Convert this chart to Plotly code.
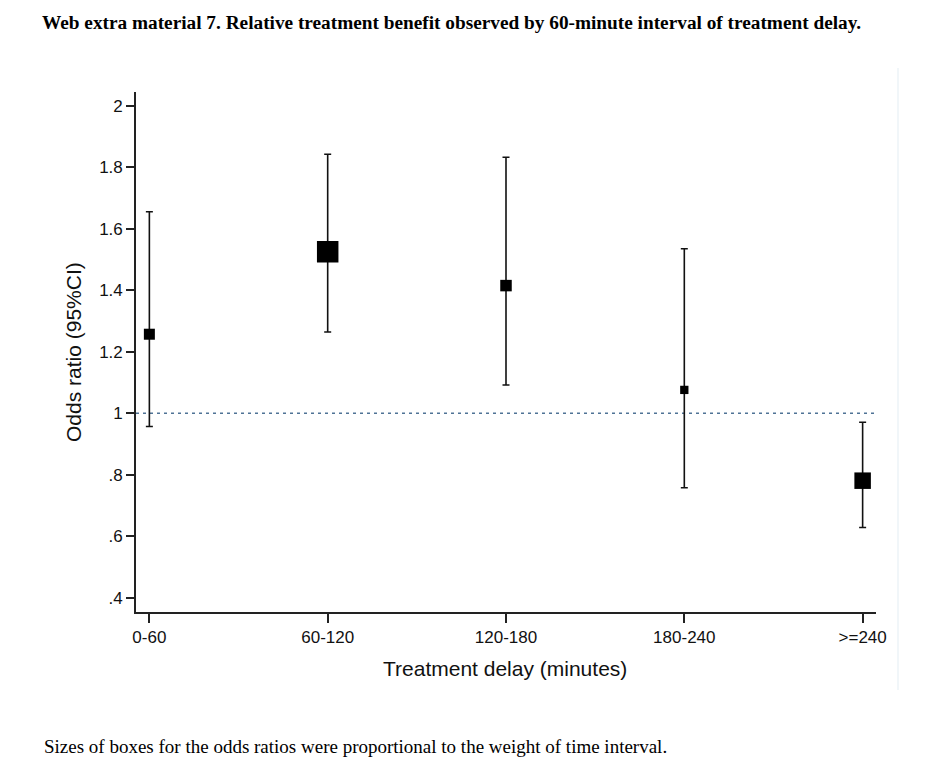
import plotly.graph_objects as go

# ---- data ----
categories = ["0-60", "60-120", "120-180", "180-240", ">=240"]
odds_ratio = [1.257, 1.525, 1.415, 1.076, 0.781]
ci_low = [0.957, 1.264, 1.092, 0.758, 0.629]
ci_high = [1.655, 1.842, 1.832, 1.535, 0.971]
box_weight = [11, 21.5, 11.5, 8.3, 16.5]  # relative weights (box sizes)
y_tickvals = [0.4, 0.6, 0.8, 1.0, 1.2, 1.4, 1.6, 1.8, 2.0]
y_ticktext = [".4", ".6", ".8", "1", "1.2", "1.4", "1.6", "1.8", "2"]

W, H = 930, 774
L, R, T, B = 136, 54, 92, 162
pw, ph = W - L - R, H - T - B

def px_x(p):
    return (p - L) / pw

def px_y(p):
    return (H - B - p) / ph

fig = go.Figure()

fig.add_trace(go.Scatter(
    x=categories,
    y=odds_ratio,
    mode="markers",
    marker=dict(symbol="square", size=box_weight, color="black", opacity=1,
                line=dict(width=0)),
    error_y=dict(
        type="data",
        symmetric=False,
        array=[h - o for h, o in zip(ci_high, odds_ratio)],
        arrayminus=[o - l for o, l in zip(odds_ratio, ci_low)],
        color="#111111",
        thickness=1.6,
        width=3.5,
    ),
    showlegend=False,
    hoverinfo="skip",
))

# reference line at OR = 1
fig.add_shape(type="line", xref="paper", x0=0, x1=1, yref="y", y0=1, y1=1,
              line=dict(color="#4f7396", width=1.4, dash="3px,4px"), layer="below")

# faint frame line at the right
fig.add_shape(type="line", xref="paper", yref="paper",
              x0=px_x(898), x1=px_x(898), y0=px_y(690), y1=px_y(68),
              line=dict(color="#e3edf3", width=1))

axis_font = dict(family="Liberation Sans, Arial, sans-serif", size=17, color="#111111")

fig.update_xaxes(
    type="category",
    range=[-0.075, 4.075],
    showline=True, linecolor="#222222", linewidth=1.6,
    ticks="outside", ticklen=9, tickwidth=1.5, tickcolor="#222222",
    showgrid=False, zeroline=False,
    tickfont=axis_font,
)
fig.update_yaxes(
    range=[0.3542, 2.0442],
    tickvals=y_tickvals, ticktext=y_ticktext,
    showline=True, linecolor="#222222", linewidth=1.6,
    ticks="outside", ticklen=8, tickwidth=1.5, tickcolor="#222222",
    showgrid=False, zeroline=False,
    tickfont=axis_font,
)

annotations = [
    dict(text="Treatment delay (minutes)", xref="paper", yref="paper",
         x=px_x(505), y=px_y(668), xanchor="center", yanchor="middle",
         showarrow=False,
         font=dict(family="Liberation Sans, Arial, sans-serif", size=21, color="#111111")),
    dict(text="Odds ratio (95%CI)", xref="paper", yref="paper",
         x=px_x(73), y=px_y(352), xanchor="center", yanchor="middle",
         textangle=-90, showarrow=False,
         font=dict(family="Liberation Sans, Arial, sans-serif", size=21, color="#111111")),
    dict(text="Sizes of boxes for the odds ratios were proportional to the weight of time interval.",
         xref="paper", yref="paper", x=px_x(42), y=px_y(746),
         xanchor="left", yanchor="middle", showarrow=False,
         font=dict(family="Liberation Serif, Times New Roman, serif", size=19, color="#000000")),
]

fig.update_layout(
    width=W, height=H,
    margin=dict(l=L, r=R, t=T, b=B, pad=0),
    paper_bgcolor="white", plot_bgcolor="white",
    title=dict(
        text="<b>Web extra material 7. Relative treatment benefit observed by 60-minute interval of treatment delay.</b>",
        x=42 / W, y=1 - 22 / H, xanchor="left", yanchor="middle", xref="container", yref="container",
        font=dict(family="Liberation Serif, Times New Roman, serif", size=19.3, color="#000000"),
    ),
    annotations=annotations,
)

fig.write_html("out.html")
